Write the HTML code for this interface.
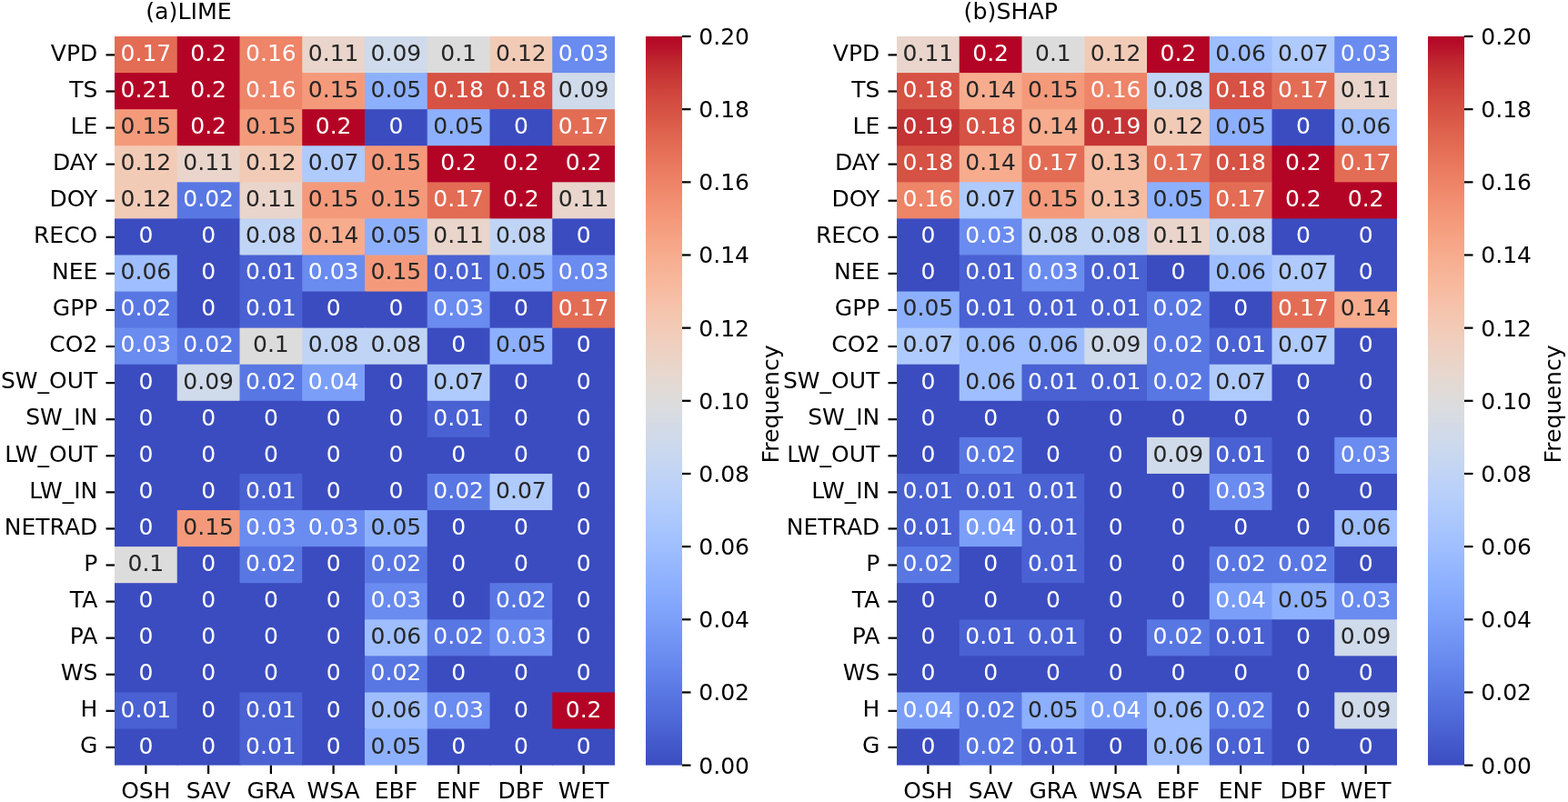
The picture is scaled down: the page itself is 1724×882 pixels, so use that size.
<!DOCTYPE html><html><head><meta charset="utf-8"><style>html,body{margin:0;padding:0;background:#fff;}svg{display:block;}text{font-family:"DejaVu Sans","Liberation Sans",sans-serif;}</style></head><body>
<svg width="1724" height="882" viewBox="0 0 1724 882" font-size="25">
<defs><linearGradient id="cw" x1="0" y1="0" x2="0" y2="1"><stop offset="0.0000" stop-color="#b40426"/><stop offset="0.0156" stop-color="#b8122a"/><stop offset="0.0312" stop-color="#be242e"/><stop offset="0.0469" stop-color="#c43032"/><stop offset="0.0625" stop-color="#ca3b37"/><stop offset="0.0781" stop-color="#cf453c"/><stop offset="0.0938" stop-color="#d44e41"/><stop offset="0.1094" stop-color="#d85646"/><stop offset="0.1250" stop-color="#dd5f4b"/><stop offset="0.1406" stop-color="#e16751"/><stop offset="0.1562" stop-color="#e46e56"/><stop offset="0.1719" stop-color="#e8765c"/><stop offset="0.1875" stop-color="#eb7d62"/><stop offset="0.2031" stop-color="#ee8468"/><stop offset="0.2188" stop-color="#f08b6e"/><stop offset="0.2344" stop-color="#f29274"/><stop offset="0.2500" stop-color="#f4987a"/><stop offset="0.2656" stop-color="#f59f80"/><stop offset="0.2812" stop-color="#f6a586"/><stop offset="0.2969" stop-color="#f7aa8c"/><stop offset="0.3125" stop-color="#f7b093"/><stop offset="0.3281" stop-color="#f7b599"/><stop offset="0.3438" stop-color="#f7ba9f"/><stop offset="0.3594" stop-color="#f6bfa6"/><stop offset="0.3750" stop-color="#f5c4ac"/><stop offset="0.3906" stop-color="#f3c8b2"/><stop offset="0.4062" stop-color="#f1ccb8"/><stop offset="0.4219" stop-color="#efcfbf"/><stop offset="0.4375" stop-color="#ecd3c5"/><stop offset="0.4531" stop-color="#e9d5cb"/><stop offset="0.4688" stop-color="#e5d8d1"/><stop offset="0.4844" stop-color="#e1dad6"/><stop offset="0.5000" stop-color="#dddcdc"/><stop offset="0.5156" stop-color="#d9dce1"/><stop offset="0.5312" stop-color="#d5dbe5"/><stop offset="0.5469" stop-color="#d1dae9"/><stop offset="0.5625" stop-color="#ccd9ed"/><stop offset="0.5781" stop-color="#c7d7f0"/><stop offset="0.5938" stop-color="#c3d5f4"/><stop offset="0.6094" stop-color="#bed2f6"/><stop offset="0.6250" stop-color="#b9d0f9"/><stop offset="0.6406" stop-color="#b3cdfb"/><stop offset="0.6562" stop-color="#aec9fc"/><stop offset="0.6719" stop-color="#a9c6fd"/><stop offset="0.6875" stop-color="#a3c2fe"/><stop offset="0.7031" stop-color="#9ebeff"/><stop offset="0.7188" stop-color="#98b9ff"/><stop offset="0.7344" stop-color="#93b5fe"/><stop offset="0.7500" stop-color="#8db0fe"/><stop offset="0.7656" stop-color="#88abfd"/><stop offset="0.7812" stop-color="#82a6fb"/><stop offset="0.7969" stop-color="#7da0f9"/><stop offset="0.8125" stop-color="#779af7"/><stop offset="0.8281" stop-color="#7295f4"/><stop offset="0.8438" stop-color="#6c8ff1"/><stop offset="0.8594" stop-color="#6788ee"/><stop offset="0.8750" stop-color="#6282ea"/><stop offset="0.8906" stop-color="#5d7ce6"/><stop offset="0.9062" stop-color="#5875e1"/><stop offset="0.9219" stop-color="#536edd"/><stop offset="0.9375" stop-color="#4e68d8"/><stop offset="0.9531" stop-color="#4961d2"/><stop offset="0.9688" stop-color="#445acc"/><stop offset="0.9844" stop-color="#3f53c6"/><stop offset="1.0000" stop-color="#3b4cc0"/></linearGradient></defs>
<rect x="126.00" y="40.00" width="69.75" height="41.08" fill="#e36c55"/>
<rect x="194.75" y="40.00" width="69.75" height="41.08" fill="#b40426"/>
<rect x="263.50" y="40.00" width="69.75" height="41.08" fill="#ee8468"/>
<rect x="332.25" y="40.00" width="69.75" height="41.08" fill="#e9d5cb"/>
<rect x="401.00" y="40.00" width="69.75" height="41.08" fill="#cfdaea"/>
<rect x="469.75" y="40.00" width="69.75" height="41.08" fill="#dddcdc"/>
<rect x="538.50" y="40.00" width="69.75" height="41.08" fill="#f2cbb7"/>
<rect x="607.25" y="40.00" width="68.75" height="41.08" fill="#6a8bef"/>
<rect x="126.00" y="80.08" width="69.75" height="41.08" fill="#b40426"/>
<rect x="194.75" y="80.08" width="69.75" height="41.08" fill="#b40426"/>
<rect x="263.50" y="80.08" width="69.75" height="41.08" fill="#ee8468"/>
<rect x="332.25" y="80.08" width="69.75" height="41.08" fill="#f49a7b"/>
<rect x="401.00" y="80.08" width="69.75" height="41.08" fill="#8db0fe"/>
<rect x="469.75" y="80.08" width="69.75" height="41.08" fill="#d65244"/>
<rect x="538.50" y="80.08" width="69.75" height="41.08" fill="#d65244"/>
<rect x="607.25" y="80.08" width="68.75" height="41.08" fill="#cfdaea"/>
<rect x="126.00" y="120.16" width="69.75" height="41.08" fill="#f49a7b"/>
<rect x="194.75" y="120.16" width="69.75" height="41.08" fill="#b40426"/>
<rect x="263.50" y="120.16" width="69.75" height="41.08" fill="#f49a7b"/>
<rect x="332.25" y="120.16" width="69.75" height="41.08" fill="#b40426"/>
<rect x="401.00" y="120.16" width="69.75" height="41.08" fill="#3b4cc0"/>
<rect x="469.75" y="120.16" width="69.75" height="41.08" fill="#8db0fe"/>
<rect x="538.50" y="120.16" width="69.75" height="41.08" fill="#3b4cc0"/>
<rect x="607.25" y="120.16" width="68.75" height="41.08" fill="#e36c55"/>
<rect x="126.00" y="160.24" width="69.75" height="41.08" fill="#f2cbb7"/>
<rect x="194.75" y="160.24" width="69.75" height="41.08" fill="#e9d5cb"/>
<rect x="263.50" y="160.24" width="69.75" height="41.08" fill="#f2cbb7"/>
<rect x="332.25" y="160.24" width="69.75" height="41.08" fill="#afcafc"/>
<rect x="401.00" y="160.24" width="69.75" height="41.08" fill="#f49a7b"/>
<rect x="469.75" y="160.24" width="69.75" height="41.08" fill="#b40426"/>
<rect x="538.50" y="160.24" width="69.75" height="41.08" fill="#b40426"/>
<rect x="607.25" y="160.24" width="68.75" height="41.08" fill="#b40426"/>
<rect x="126.00" y="200.32" width="69.75" height="41.08" fill="#f2cbb7"/>
<rect x="194.75" y="200.32" width="69.75" height="41.08" fill="#5977e3"/>
<rect x="263.50" y="200.32" width="69.75" height="41.08" fill="#e9d5cb"/>
<rect x="332.25" y="200.32" width="69.75" height="41.08" fill="#f49a7b"/>
<rect x="401.00" y="200.32" width="69.75" height="41.08" fill="#f49a7b"/>
<rect x="469.75" y="200.32" width="69.75" height="41.08" fill="#e36c55"/>
<rect x="538.50" y="200.32" width="69.75" height="41.08" fill="#b40426"/>
<rect x="607.25" y="200.32" width="68.75" height="41.08" fill="#e9d5cb"/>
<rect x="126.00" y="240.40" width="69.75" height="41.08" fill="#3b4cc0"/>
<rect x="194.75" y="240.40" width="69.75" height="41.08" fill="#3b4cc0"/>
<rect x="263.50" y="240.40" width="69.75" height="41.08" fill="#c0d4f5"/>
<rect x="332.25" y="240.40" width="69.75" height="41.08" fill="#f7ac8e"/>
<rect x="401.00" y="240.40" width="69.75" height="41.08" fill="#8db0fe"/>
<rect x="469.75" y="240.40" width="69.75" height="41.08" fill="#e9d5cb"/>
<rect x="538.50" y="240.40" width="69.75" height="41.08" fill="#c0d4f5"/>
<rect x="607.25" y="240.40" width="68.75" height="41.08" fill="#3b4cc0"/>
<rect x="126.00" y="280.48" width="69.75" height="41.08" fill="#9ebeff"/>
<rect x="194.75" y="280.48" width="69.75" height="41.08" fill="#3b4cc0"/>
<rect x="263.50" y="280.48" width="69.75" height="41.08" fill="#4961d2"/>
<rect x="332.25" y="280.48" width="69.75" height="41.08" fill="#6a8bef"/>
<rect x="401.00" y="280.48" width="69.75" height="41.08" fill="#f49a7b"/>
<rect x="469.75" y="280.48" width="69.75" height="41.08" fill="#4961d2"/>
<rect x="538.50" y="280.48" width="69.75" height="41.08" fill="#8db0fe"/>
<rect x="607.25" y="280.48" width="68.75" height="41.08" fill="#6a8bef"/>
<rect x="126.00" y="320.56" width="69.75" height="41.08" fill="#5977e3"/>
<rect x="194.75" y="320.56" width="69.75" height="41.08" fill="#3b4cc0"/>
<rect x="263.50" y="320.56" width="69.75" height="41.08" fill="#4961d2"/>
<rect x="332.25" y="320.56" width="69.75" height="41.08" fill="#3b4cc0"/>
<rect x="401.00" y="320.56" width="69.75" height="41.08" fill="#3b4cc0"/>
<rect x="469.75" y="320.56" width="69.75" height="41.08" fill="#6a8bef"/>
<rect x="538.50" y="320.56" width="69.75" height="41.08" fill="#3b4cc0"/>
<rect x="607.25" y="320.56" width="68.75" height="41.08" fill="#e36c55"/>
<rect x="126.00" y="360.64" width="69.75" height="41.08" fill="#6a8bef"/>
<rect x="194.75" y="360.64" width="69.75" height="41.08" fill="#5977e3"/>
<rect x="263.50" y="360.64" width="69.75" height="41.08" fill="#dddcdc"/>
<rect x="332.25" y="360.64" width="69.75" height="41.08" fill="#c0d4f5"/>
<rect x="401.00" y="360.64" width="69.75" height="41.08" fill="#c0d4f5"/>
<rect x="469.75" y="360.64" width="69.75" height="41.08" fill="#3b4cc0"/>
<rect x="538.50" y="360.64" width="69.75" height="41.08" fill="#8db0fe"/>
<rect x="607.25" y="360.64" width="68.75" height="41.08" fill="#3b4cc0"/>
<rect x="126.00" y="400.72" width="69.75" height="41.08" fill="#3b4cc0"/>
<rect x="194.75" y="400.72" width="69.75" height="41.08" fill="#cfdaea"/>
<rect x="263.50" y="400.72" width="69.75" height="41.08" fill="#5977e3"/>
<rect x="332.25" y="400.72" width="69.75" height="41.08" fill="#7b9ff9"/>
<rect x="401.00" y="400.72" width="69.75" height="41.08" fill="#3b4cc0"/>
<rect x="469.75" y="400.72" width="69.75" height="41.08" fill="#afcafc"/>
<rect x="538.50" y="400.72" width="69.75" height="41.08" fill="#3b4cc0"/>
<rect x="607.25" y="400.72" width="68.75" height="41.08" fill="#3b4cc0"/>
<rect x="126.00" y="440.80" width="69.75" height="41.08" fill="#3b4cc0"/>
<rect x="194.75" y="440.80" width="69.75" height="41.08" fill="#3b4cc0"/>
<rect x="263.50" y="440.80" width="69.75" height="41.08" fill="#3b4cc0"/>
<rect x="332.25" y="440.80" width="69.75" height="41.08" fill="#3b4cc0"/>
<rect x="401.00" y="440.80" width="69.75" height="41.08" fill="#3b4cc0"/>
<rect x="469.75" y="440.80" width="69.75" height="41.08" fill="#4961d2"/>
<rect x="538.50" y="440.80" width="69.75" height="41.08" fill="#3b4cc0"/>
<rect x="607.25" y="440.80" width="68.75" height="41.08" fill="#3b4cc0"/>
<rect x="126.00" y="480.88" width="69.75" height="41.08" fill="#3b4cc0"/>
<rect x="194.75" y="480.88" width="69.75" height="41.08" fill="#3b4cc0"/>
<rect x="263.50" y="480.88" width="69.75" height="41.08" fill="#3b4cc0"/>
<rect x="332.25" y="480.88" width="69.75" height="41.08" fill="#3b4cc0"/>
<rect x="401.00" y="480.88" width="69.75" height="41.08" fill="#3b4cc0"/>
<rect x="469.75" y="480.88" width="69.75" height="41.08" fill="#3b4cc0"/>
<rect x="538.50" y="480.88" width="69.75" height="41.08" fill="#3b4cc0"/>
<rect x="607.25" y="480.88" width="68.75" height="41.08" fill="#3b4cc0"/>
<rect x="126.00" y="520.96" width="69.75" height="41.08" fill="#3b4cc0"/>
<rect x="194.75" y="520.96" width="69.75" height="41.08" fill="#3b4cc0"/>
<rect x="263.50" y="520.96" width="69.75" height="41.08" fill="#4961d2"/>
<rect x="332.25" y="520.96" width="69.75" height="41.08" fill="#3b4cc0"/>
<rect x="401.00" y="520.96" width="69.75" height="41.08" fill="#3b4cc0"/>
<rect x="469.75" y="520.96" width="69.75" height="41.08" fill="#5977e3"/>
<rect x="538.50" y="520.96" width="69.75" height="41.08" fill="#afcafc"/>
<rect x="607.25" y="520.96" width="68.75" height="41.08" fill="#3b4cc0"/>
<rect x="126.00" y="561.04" width="69.75" height="41.08" fill="#3b4cc0"/>
<rect x="194.75" y="561.04" width="69.75" height="41.08" fill="#f49a7b"/>
<rect x="263.50" y="561.04" width="69.75" height="41.08" fill="#6a8bef"/>
<rect x="332.25" y="561.04" width="69.75" height="41.08" fill="#6a8bef"/>
<rect x="401.00" y="561.04" width="69.75" height="41.08" fill="#8db0fe"/>
<rect x="469.75" y="561.04" width="69.75" height="41.08" fill="#3b4cc0"/>
<rect x="538.50" y="561.04" width="69.75" height="41.08" fill="#3b4cc0"/>
<rect x="607.25" y="561.04" width="68.75" height="41.08" fill="#3b4cc0"/>
<rect x="126.00" y="601.12" width="69.75" height="41.08" fill="#dddcdc"/>
<rect x="194.75" y="601.12" width="69.75" height="41.08" fill="#3b4cc0"/>
<rect x="263.50" y="601.12" width="69.75" height="41.08" fill="#5977e3"/>
<rect x="332.25" y="601.12" width="69.75" height="41.08" fill="#3b4cc0"/>
<rect x="401.00" y="601.12" width="69.75" height="41.08" fill="#5977e3"/>
<rect x="469.75" y="601.12" width="69.75" height="41.08" fill="#3b4cc0"/>
<rect x="538.50" y="601.12" width="69.75" height="41.08" fill="#3b4cc0"/>
<rect x="607.25" y="601.12" width="68.75" height="41.08" fill="#3b4cc0"/>
<rect x="126.00" y="641.20" width="69.75" height="41.08" fill="#3b4cc0"/>
<rect x="194.75" y="641.20" width="69.75" height="41.08" fill="#3b4cc0"/>
<rect x="263.50" y="641.20" width="69.75" height="41.08" fill="#3b4cc0"/>
<rect x="332.25" y="641.20" width="69.75" height="41.08" fill="#3b4cc0"/>
<rect x="401.00" y="641.20" width="69.75" height="41.08" fill="#6a8bef"/>
<rect x="469.75" y="641.20" width="69.75" height="41.08" fill="#3b4cc0"/>
<rect x="538.50" y="641.20" width="69.75" height="41.08" fill="#5977e3"/>
<rect x="607.25" y="641.20" width="68.75" height="41.08" fill="#3b4cc0"/>
<rect x="126.00" y="681.28" width="69.75" height="41.08" fill="#3b4cc0"/>
<rect x="194.75" y="681.28" width="69.75" height="41.08" fill="#3b4cc0"/>
<rect x="263.50" y="681.28" width="69.75" height="41.08" fill="#3b4cc0"/>
<rect x="332.25" y="681.28" width="69.75" height="41.08" fill="#3b4cc0"/>
<rect x="401.00" y="681.28" width="69.75" height="41.08" fill="#9ebeff"/>
<rect x="469.75" y="681.28" width="69.75" height="41.08" fill="#5977e3"/>
<rect x="538.50" y="681.28" width="69.75" height="41.08" fill="#6a8bef"/>
<rect x="607.25" y="681.28" width="68.75" height="41.08" fill="#3b4cc0"/>
<rect x="126.00" y="721.36" width="69.75" height="41.08" fill="#3b4cc0"/>
<rect x="194.75" y="721.36" width="69.75" height="41.08" fill="#3b4cc0"/>
<rect x="263.50" y="721.36" width="69.75" height="41.08" fill="#3b4cc0"/>
<rect x="332.25" y="721.36" width="69.75" height="41.08" fill="#3b4cc0"/>
<rect x="401.00" y="721.36" width="69.75" height="41.08" fill="#5977e3"/>
<rect x="469.75" y="721.36" width="69.75" height="41.08" fill="#3b4cc0"/>
<rect x="538.50" y="721.36" width="69.75" height="41.08" fill="#3b4cc0"/>
<rect x="607.25" y="721.36" width="68.75" height="41.08" fill="#3b4cc0"/>
<rect x="126.00" y="761.44" width="69.75" height="41.08" fill="#4961d2"/>
<rect x="194.75" y="761.44" width="69.75" height="41.08" fill="#3b4cc0"/>
<rect x="263.50" y="761.44" width="69.75" height="41.08" fill="#4961d2"/>
<rect x="332.25" y="761.44" width="69.75" height="41.08" fill="#3b4cc0"/>
<rect x="401.00" y="761.44" width="69.75" height="41.08" fill="#9ebeff"/>
<rect x="469.75" y="761.44" width="69.75" height="41.08" fill="#6a8bef"/>
<rect x="538.50" y="761.44" width="69.75" height="41.08" fill="#3b4cc0"/>
<rect x="607.25" y="761.44" width="68.75" height="41.08" fill="#b40426"/>
<rect x="126.00" y="801.52" width="69.75" height="40.08" fill="#3b4cc0"/>
<rect x="194.75" y="801.52" width="69.75" height="40.08" fill="#3b4cc0"/>
<rect x="263.50" y="801.52" width="69.75" height="40.08" fill="#4961d2"/>
<rect x="332.25" y="801.52" width="69.75" height="40.08" fill="#3b4cc0"/>
<rect x="401.00" y="801.52" width="69.75" height="40.08" fill="#8db0fe"/>
<rect x="469.75" y="801.52" width="69.75" height="40.08" fill="#3b4cc0"/>
<rect x="538.50" y="801.52" width="69.75" height="40.08" fill="#3b4cc0"/>
<rect x="607.25" y="801.52" width="68.75" height="40.08" fill="#3b4cc0"/>
<text x="160.38" y="66.59" text-anchor="middle" fill="#ffffff">0.17</text>
<text x="229.12" y="66.59" text-anchor="middle" fill="#ffffff">0.2</text>
<text x="297.88" y="66.59" text-anchor="middle" fill="#ffffff">0.16</text>
<text x="366.62" y="66.59" text-anchor="middle" fill="#262626">0.11</text>
<text x="435.38" y="66.59" text-anchor="middle" fill="#262626">0.09</text>
<text x="504.12" y="66.59" text-anchor="middle" fill="#262626">0.1</text>
<text x="572.88" y="66.59" text-anchor="middle" fill="#262626">0.12</text>
<text x="641.62" y="66.59" text-anchor="middle" fill="#ffffff">0.03</text>
<text x="160.38" y="106.70" text-anchor="middle" fill="#ffffff">0.21</text>
<text x="229.12" y="106.70" text-anchor="middle" fill="#ffffff">0.2</text>
<text x="297.88" y="106.70" text-anchor="middle" fill="#ffffff">0.16</text>
<text x="366.62" y="106.70" text-anchor="middle" fill="#262626">0.15</text>
<text x="435.38" y="106.70" text-anchor="middle" fill="#262626">0.05</text>
<text x="504.12" y="106.70" text-anchor="middle" fill="#ffffff">0.18</text>
<text x="572.88" y="106.70" text-anchor="middle" fill="#ffffff">0.18</text>
<text x="641.62" y="106.70" text-anchor="middle" fill="#262626">0.09</text>
<text x="160.38" y="146.81" text-anchor="middle" fill="#262626">0.15</text>
<text x="229.12" y="146.81" text-anchor="middle" fill="#ffffff">0.2</text>
<text x="297.88" y="146.81" text-anchor="middle" fill="#262626">0.15</text>
<text x="366.62" y="146.81" text-anchor="middle" fill="#ffffff">0.2</text>
<text x="435.38" y="146.81" text-anchor="middle" fill="#ffffff">0</text>
<text x="504.12" y="146.81" text-anchor="middle" fill="#262626">0.05</text>
<text x="572.88" y="146.81" text-anchor="middle" fill="#ffffff">0</text>
<text x="641.62" y="146.81" text-anchor="middle" fill="#ffffff">0.17</text>
<text x="160.38" y="186.91" text-anchor="middle" fill="#262626">0.12</text>
<text x="229.12" y="186.91" text-anchor="middle" fill="#262626">0.11</text>
<text x="297.88" y="186.91" text-anchor="middle" fill="#262626">0.12</text>
<text x="366.62" y="186.91" text-anchor="middle" fill="#262626">0.07</text>
<text x="435.38" y="186.91" text-anchor="middle" fill="#262626">0.15</text>
<text x="504.12" y="186.91" text-anchor="middle" fill="#ffffff">0.2</text>
<text x="572.88" y="186.91" text-anchor="middle" fill="#ffffff">0.2</text>
<text x="641.62" y="186.91" text-anchor="middle" fill="#ffffff">0.2</text>
<text x="160.38" y="227.02" text-anchor="middle" fill="#262626">0.12</text>
<text x="229.12" y="227.02" text-anchor="middle" fill="#ffffff">0.02</text>
<text x="297.88" y="227.02" text-anchor="middle" fill="#262626">0.11</text>
<text x="366.62" y="227.02" text-anchor="middle" fill="#262626">0.15</text>
<text x="435.38" y="227.02" text-anchor="middle" fill="#262626">0.15</text>
<text x="504.12" y="227.02" text-anchor="middle" fill="#ffffff">0.17</text>
<text x="572.88" y="227.02" text-anchor="middle" fill="#ffffff">0.2</text>
<text x="641.62" y="227.02" text-anchor="middle" fill="#262626">0.11</text>
<text x="160.38" y="267.13" text-anchor="middle" fill="#ffffff">0</text>
<text x="229.12" y="267.13" text-anchor="middle" fill="#ffffff">0</text>
<text x="297.88" y="267.13" text-anchor="middle" fill="#262626">0.08</text>
<text x="366.62" y="267.13" text-anchor="middle" fill="#262626">0.14</text>
<text x="435.38" y="267.13" text-anchor="middle" fill="#262626">0.05</text>
<text x="504.12" y="267.13" text-anchor="middle" fill="#262626">0.11</text>
<text x="572.88" y="267.13" text-anchor="middle" fill="#262626">0.08</text>
<text x="641.62" y="267.13" text-anchor="middle" fill="#ffffff">0</text>
<text x="160.38" y="307.24" text-anchor="middle" fill="#262626">0.06</text>
<text x="229.12" y="307.24" text-anchor="middle" fill="#ffffff">0</text>
<text x="297.88" y="307.24" text-anchor="middle" fill="#ffffff">0.01</text>
<text x="366.62" y="307.24" text-anchor="middle" fill="#ffffff">0.03</text>
<text x="435.38" y="307.24" text-anchor="middle" fill="#262626">0.15</text>
<text x="504.12" y="307.24" text-anchor="middle" fill="#ffffff">0.01</text>
<text x="572.88" y="307.24" text-anchor="middle" fill="#262626">0.05</text>
<text x="641.62" y="307.24" text-anchor="middle" fill="#ffffff">0.03</text>
<text x="160.38" y="347.35" text-anchor="middle" fill="#ffffff">0.02</text>
<text x="229.12" y="347.35" text-anchor="middle" fill="#ffffff">0</text>
<text x="297.88" y="347.35" text-anchor="middle" fill="#ffffff">0.01</text>
<text x="366.62" y="347.35" text-anchor="middle" fill="#ffffff">0</text>
<text x="435.38" y="347.35" text-anchor="middle" fill="#ffffff">0</text>
<text x="504.12" y="347.35" text-anchor="middle" fill="#ffffff">0.03</text>
<text x="572.88" y="347.35" text-anchor="middle" fill="#ffffff">0</text>
<text x="641.62" y="347.35" text-anchor="middle" fill="#ffffff">0.17</text>
<text x="160.38" y="387.45" text-anchor="middle" fill="#ffffff">0.03</text>
<text x="229.12" y="387.45" text-anchor="middle" fill="#ffffff">0.02</text>
<text x="297.88" y="387.45" text-anchor="middle" fill="#262626">0.1</text>
<text x="366.62" y="387.45" text-anchor="middle" fill="#262626">0.08</text>
<text x="435.38" y="387.45" text-anchor="middle" fill="#262626">0.08</text>
<text x="504.12" y="387.45" text-anchor="middle" fill="#ffffff">0</text>
<text x="572.88" y="387.45" text-anchor="middle" fill="#262626">0.05</text>
<text x="641.62" y="387.45" text-anchor="middle" fill="#ffffff">0</text>
<text x="160.38" y="427.56" text-anchor="middle" fill="#ffffff">0</text>
<text x="229.12" y="427.56" text-anchor="middle" fill="#262626">0.09</text>
<text x="297.88" y="427.56" text-anchor="middle" fill="#ffffff">0.02</text>
<text x="366.62" y="427.56" text-anchor="middle" fill="#ffffff">0.04</text>
<text x="435.38" y="427.56" text-anchor="middle" fill="#ffffff">0</text>
<text x="504.12" y="427.56" text-anchor="middle" fill="#262626">0.07</text>
<text x="572.88" y="427.56" text-anchor="middle" fill="#ffffff">0</text>
<text x="641.62" y="427.56" text-anchor="middle" fill="#ffffff">0</text>
<text x="160.38" y="467.67" text-anchor="middle" fill="#ffffff">0</text>
<text x="229.12" y="467.67" text-anchor="middle" fill="#ffffff">0</text>
<text x="297.88" y="467.67" text-anchor="middle" fill="#ffffff">0</text>
<text x="366.62" y="467.67" text-anchor="middle" fill="#ffffff">0</text>
<text x="435.38" y="467.67" text-anchor="middle" fill="#ffffff">0</text>
<text x="504.12" y="467.67" text-anchor="middle" fill="#ffffff">0.01</text>
<text x="572.88" y="467.67" text-anchor="middle" fill="#ffffff">0</text>
<text x="641.62" y="467.67" text-anchor="middle" fill="#ffffff">0</text>
<text x="160.38" y="507.78" text-anchor="middle" fill="#ffffff">0</text>
<text x="229.12" y="507.78" text-anchor="middle" fill="#ffffff">0</text>
<text x="297.88" y="507.78" text-anchor="middle" fill="#ffffff">0</text>
<text x="366.62" y="507.78" text-anchor="middle" fill="#ffffff">0</text>
<text x="435.38" y="507.78" text-anchor="middle" fill="#ffffff">0</text>
<text x="504.12" y="507.78" text-anchor="middle" fill="#ffffff">0</text>
<text x="572.88" y="507.78" text-anchor="middle" fill="#ffffff">0</text>
<text x="641.62" y="507.78" text-anchor="middle" fill="#ffffff">0</text>
<text x="160.38" y="547.89" text-anchor="middle" fill="#ffffff">0</text>
<text x="229.12" y="547.89" text-anchor="middle" fill="#ffffff">0</text>
<text x="297.88" y="547.89" text-anchor="middle" fill="#ffffff">0.01</text>
<text x="366.62" y="547.89" text-anchor="middle" fill="#ffffff">0</text>
<text x="435.38" y="547.89" text-anchor="middle" fill="#ffffff">0</text>
<text x="504.12" y="547.89" text-anchor="middle" fill="#ffffff">0.02</text>
<text x="572.88" y="547.89" text-anchor="middle" fill="#262626">0.07</text>
<text x="641.62" y="547.89" text-anchor="middle" fill="#ffffff">0</text>
<text x="160.38" y="587.99" text-anchor="middle" fill="#ffffff">0</text>
<text x="229.12" y="587.99" text-anchor="middle" fill="#262626">0.15</text>
<text x="297.88" y="587.99" text-anchor="middle" fill="#ffffff">0.03</text>
<text x="366.62" y="587.99" text-anchor="middle" fill="#ffffff">0.03</text>
<text x="435.38" y="587.99" text-anchor="middle" fill="#262626">0.05</text>
<text x="504.12" y="587.99" text-anchor="middle" fill="#ffffff">0</text>
<text x="572.88" y="587.99" text-anchor="middle" fill="#ffffff">0</text>
<text x="641.62" y="587.99" text-anchor="middle" fill="#ffffff">0</text>
<text x="160.38" y="628.10" text-anchor="middle" fill="#262626">0.1</text>
<text x="229.12" y="628.10" text-anchor="middle" fill="#ffffff">0</text>
<text x="297.88" y="628.10" text-anchor="middle" fill="#ffffff">0.02</text>
<text x="366.62" y="628.10" text-anchor="middle" fill="#ffffff">0</text>
<text x="435.38" y="628.10" text-anchor="middle" fill="#ffffff">0.02</text>
<text x="504.12" y="628.10" text-anchor="middle" fill="#ffffff">0</text>
<text x="572.88" y="628.10" text-anchor="middle" fill="#ffffff">0</text>
<text x="641.62" y="628.10" text-anchor="middle" fill="#ffffff">0</text>
<text x="160.38" y="668.21" text-anchor="middle" fill="#ffffff">0</text>
<text x="229.12" y="668.21" text-anchor="middle" fill="#ffffff">0</text>
<text x="297.88" y="668.21" text-anchor="middle" fill="#ffffff">0</text>
<text x="366.62" y="668.21" text-anchor="middle" fill="#ffffff">0</text>
<text x="435.38" y="668.21" text-anchor="middle" fill="#ffffff">0.03</text>
<text x="504.12" y="668.21" text-anchor="middle" fill="#ffffff">0</text>
<text x="572.88" y="668.21" text-anchor="middle" fill="#ffffff">0.02</text>
<text x="641.62" y="668.21" text-anchor="middle" fill="#ffffff">0</text>
<text x="160.38" y="708.32" text-anchor="middle" fill="#ffffff">0</text>
<text x="229.12" y="708.32" text-anchor="middle" fill="#ffffff">0</text>
<text x="297.88" y="708.32" text-anchor="middle" fill="#ffffff">0</text>
<text x="366.62" y="708.32" text-anchor="middle" fill="#ffffff">0</text>
<text x="435.38" y="708.32" text-anchor="middle" fill="#262626">0.06</text>
<text x="504.12" y="708.32" text-anchor="middle" fill="#ffffff">0.02</text>
<text x="572.88" y="708.32" text-anchor="middle" fill="#ffffff">0.03</text>
<text x="641.62" y="708.32" text-anchor="middle" fill="#ffffff">0</text>
<text x="160.38" y="748.43" text-anchor="middle" fill="#ffffff">0</text>
<text x="229.12" y="748.43" text-anchor="middle" fill="#ffffff">0</text>
<text x="297.88" y="748.43" text-anchor="middle" fill="#ffffff">0</text>
<text x="366.62" y="748.43" text-anchor="middle" fill="#ffffff">0</text>
<text x="435.38" y="748.43" text-anchor="middle" fill="#ffffff">0.02</text>
<text x="504.12" y="748.43" text-anchor="middle" fill="#ffffff">0</text>
<text x="572.88" y="748.43" text-anchor="middle" fill="#ffffff">0</text>
<text x="641.62" y="748.43" text-anchor="middle" fill="#ffffff">0</text>
<text x="160.38" y="788.53" text-anchor="middle" fill="#ffffff">0.01</text>
<text x="229.12" y="788.53" text-anchor="middle" fill="#ffffff">0</text>
<text x="297.88" y="788.53" text-anchor="middle" fill="#ffffff">0.01</text>
<text x="366.62" y="788.53" text-anchor="middle" fill="#ffffff">0</text>
<text x="435.38" y="788.53" text-anchor="middle" fill="#262626">0.06</text>
<text x="504.12" y="788.53" text-anchor="middle" fill="#ffffff">0.03</text>
<text x="572.88" y="788.53" text-anchor="middle" fill="#ffffff">0</text>
<text x="641.62" y="788.53" text-anchor="middle" fill="#ffffff">0.2</text>
<text x="160.38" y="828.64" text-anchor="middle" fill="#ffffff">0</text>
<text x="229.12" y="828.64" text-anchor="middle" fill="#ffffff">0</text>
<text x="297.88" y="828.64" text-anchor="middle" fill="#ffffff">0.01</text>
<text x="366.62" y="828.64" text-anchor="middle" fill="#ffffff">0</text>
<text x="435.38" y="828.64" text-anchor="middle" fill="#262626">0.05</text>
<text x="504.12" y="828.64" text-anchor="middle" fill="#ffffff">0</text>
<text x="572.88" y="828.64" text-anchor="middle" fill="#ffffff">0</text>
<text x="641.62" y="828.64" text-anchor="middle" fill="#ffffff">0</text>
<line x1="116.50" y1="60.39" x2="126.00" y2="60.39" stroke="#000" stroke-width="2.2"/>
<text x="107.30" y="66.64" text-anchor="end" fill="#000">VPD</text>
<line x1="116.50" y1="100.47" x2="126.00" y2="100.47" stroke="#000" stroke-width="2.2"/>
<text x="107.30" y="106.72" text-anchor="end" fill="#000">TS</text>
<line x1="116.50" y1="140.55" x2="126.00" y2="140.55" stroke="#000" stroke-width="2.2"/>
<text x="107.30" y="146.80" text-anchor="end" fill="#000">LE</text>
<line x1="116.50" y1="180.63" x2="126.00" y2="180.63" stroke="#000" stroke-width="2.2"/>
<text x="107.30" y="186.88" text-anchor="end" fill="#000">DAY</text>
<line x1="116.50" y1="220.71" x2="126.00" y2="220.71" stroke="#000" stroke-width="2.2"/>
<text x="107.30" y="226.96" text-anchor="end" fill="#000">DOY</text>
<line x1="116.50" y1="260.79" x2="126.00" y2="260.79" stroke="#000" stroke-width="2.2"/>
<text x="107.30" y="267.04" text-anchor="end" fill="#000">RECO</text>
<line x1="116.50" y1="300.87" x2="126.00" y2="300.87" stroke="#000" stroke-width="2.2"/>
<text x="107.30" y="307.12" text-anchor="end" fill="#000">NEE</text>
<line x1="116.50" y1="340.95" x2="126.00" y2="340.95" stroke="#000" stroke-width="2.2"/>
<text x="107.30" y="347.20" text-anchor="end" fill="#000">GPP</text>
<line x1="116.50" y1="381.03" x2="126.00" y2="381.03" stroke="#000" stroke-width="2.2"/>
<text x="107.30" y="387.28" text-anchor="end" fill="#000">CO2</text>
<line x1="116.50" y1="421.11" x2="126.00" y2="421.11" stroke="#000" stroke-width="2.2"/>
<text x="107.30" y="427.36" text-anchor="end" fill="#000">SW_OUT</text>
<line x1="116.50" y1="461.19" x2="126.00" y2="461.19" stroke="#000" stroke-width="2.2"/>
<text x="107.30" y="467.44" text-anchor="end" fill="#000">SW_IN</text>
<line x1="116.50" y1="501.27" x2="126.00" y2="501.27" stroke="#000" stroke-width="2.2"/>
<text x="107.30" y="507.52" text-anchor="end" fill="#000">LW_OUT</text>
<line x1="116.50" y1="541.35" x2="126.00" y2="541.35" stroke="#000" stroke-width="2.2"/>
<text x="107.30" y="547.60" text-anchor="end" fill="#000">LW_IN</text>
<line x1="116.50" y1="581.43" x2="126.00" y2="581.43" stroke="#000" stroke-width="2.2"/>
<text x="107.30" y="587.68" text-anchor="end" fill="#000">NETRAD</text>
<line x1="116.50" y1="621.51" x2="126.00" y2="621.51" stroke="#000" stroke-width="2.2"/>
<text x="107.30" y="627.76" text-anchor="end" fill="#000">P</text>
<line x1="116.50" y1="661.59" x2="126.00" y2="661.59" stroke="#000" stroke-width="2.2"/>
<text x="107.30" y="667.84" text-anchor="end" fill="#000">TA</text>
<line x1="116.50" y1="701.67" x2="126.00" y2="701.67" stroke="#000" stroke-width="2.2"/>
<text x="107.30" y="707.92" text-anchor="end" fill="#000">PA</text>
<line x1="116.50" y1="741.75" x2="126.00" y2="741.75" stroke="#000" stroke-width="2.2"/>
<text x="107.30" y="748.00" text-anchor="end" fill="#000">WS</text>
<line x1="116.50" y1="781.83" x2="126.00" y2="781.83" stroke="#000" stroke-width="2.2"/>
<text x="107.30" y="788.08" text-anchor="end" fill="#000">H</text>
<line x1="116.50" y1="821.91" x2="126.00" y2="821.91" stroke="#000" stroke-width="2.2"/>
<text x="107.30" y="828.16" text-anchor="end" fill="#000">G</text>
<line x1="160.38" y1="841.60" x2="160.38" y2="851.10" stroke="#000" stroke-width="2.2"/>
<text x="160.38" y="878.00" text-anchor="middle" fill="#000">OSH</text>
<line x1="229.12" y1="841.60" x2="229.12" y2="851.10" stroke="#000" stroke-width="2.2"/>
<text x="229.12" y="878.00" text-anchor="middle" fill="#000">SAV</text>
<line x1="297.88" y1="841.60" x2="297.88" y2="851.10" stroke="#000" stroke-width="2.2"/>
<text x="297.88" y="878.00" text-anchor="middle" fill="#000">GRA</text>
<line x1="366.62" y1="841.60" x2="366.62" y2="851.10" stroke="#000" stroke-width="2.2"/>
<text x="366.62" y="878.00" text-anchor="middle" fill="#000">WSA</text>
<line x1="435.38" y1="841.60" x2="435.38" y2="851.10" stroke="#000" stroke-width="2.2"/>
<text x="435.38" y="878.00" text-anchor="middle" fill="#000">EBF</text>
<line x1="504.12" y1="841.60" x2="504.12" y2="851.10" stroke="#000" stroke-width="2.2"/>
<text x="504.12" y="878.00" text-anchor="middle" fill="#000">ENF</text>
<line x1="572.88" y1="841.60" x2="572.88" y2="851.10" stroke="#000" stroke-width="2.2"/>
<text x="572.88" y="878.00" text-anchor="middle" fill="#000">DBF</text>
<line x1="641.62" y1="841.60" x2="641.62" y2="851.10" stroke="#000" stroke-width="2.2"/>
<text x="641.62" y="878.00" text-anchor="middle" fill="#000">WET</text>
<rect x="710.00" y="40.00" width="40.00" height="801.60" fill="url(#cw)"/>
<line x1="750.00" y1="841.60" x2="759.50" y2="841.60" stroke="#000" stroke-width="2.2"/>
<text x="768.30" y="850.50" fill="#000">0.00</text>
<line x1="750.00" y1="761.44" x2="759.50" y2="761.44" stroke="#000" stroke-width="2.2"/>
<text x="768.30" y="770.34" fill="#000">0.02</text>
<line x1="750.00" y1="681.28" x2="759.50" y2="681.28" stroke="#000" stroke-width="2.2"/>
<text x="768.30" y="690.18" fill="#000">0.04</text>
<line x1="750.00" y1="601.12" x2="759.50" y2="601.12" stroke="#000" stroke-width="2.2"/>
<text x="768.30" y="610.02" fill="#000">0.06</text>
<line x1="750.00" y1="520.96" x2="759.50" y2="520.96" stroke="#000" stroke-width="2.2"/>
<text x="768.30" y="529.86" fill="#000">0.08</text>
<line x1="750.00" y1="440.80" x2="759.50" y2="440.80" stroke="#000" stroke-width="2.2"/>
<text x="768.30" y="449.70" fill="#000">0.10</text>
<line x1="750.00" y1="360.64" x2="759.50" y2="360.64" stroke="#000" stroke-width="2.2"/>
<text x="768.30" y="369.54" fill="#000">0.12</text>
<line x1="750.00" y1="280.48" x2="759.50" y2="280.48" stroke="#000" stroke-width="2.2"/>
<text x="768.30" y="289.38" fill="#000">0.14</text>
<line x1="750.00" y1="200.32" x2="759.50" y2="200.32" stroke="#000" stroke-width="2.2"/>
<text x="768.30" y="209.22" fill="#000">0.16</text>
<line x1="750.00" y1="120.16" x2="759.50" y2="120.16" stroke="#000" stroke-width="2.2"/>
<text x="768.30" y="129.06" fill="#000">0.18</text>
<line x1="750.00" y1="40.00" x2="759.50" y2="40.00" stroke="#000" stroke-width="2.2"/>
<text x="768.30" y="48.90" fill="#000">0.20</text>
<text x="856.00" y="444.40" text-anchor="middle" fill="#000" font-size="25.2" transform="rotate(-90 856.00 444.40)">Frequency</text>
<text x="160.20" y="20.6" fill="#000" font-size="25.3">(a)LIME</text>
<rect x="986.00" y="40.00" width="69.75" height="41.08" fill="#e9d5cb"/>
<rect x="1054.75" y="40.00" width="69.75" height="41.08" fill="#b40426"/>
<rect x="1123.50" y="40.00" width="69.75" height="41.08" fill="#dddcdc"/>
<rect x="1192.25" y="40.00" width="69.75" height="41.08" fill="#f2cbb7"/>
<rect x="1261.00" y="40.00" width="69.75" height="41.08" fill="#b40426"/>
<rect x="1329.75" y="40.00" width="69.75" height="41.08" fill="#9ebeff"/>
<rect x="1398.50" y="40.00" width="69.75" height="41.08" fill="#afcafc"/>
<rect x="1467.25" y="40.00" width="68.75" height="41.08" fill="#6a8bef"/>
<rect x="986.00" y="80.08" width="69.75" height="41.08" fill="#d65244"/>
<rect x="1054.75" y="80.08" width="69.75" height="41.08" fill="#f7ac8e"/>
<rect x="1123.50" y="80.08" width="69.75" height="41.08" fill="#f49a7b"/>
<rect x="1192.25" y="80.08" width="69.75" height="41.08" fill="#ee8468"/>
<rect x="1261.00" y="80.08" width="69.75" height="41.08" fill="#c0d4f5"/>
<rect x="1329.75" y="80.08" width="69.75" height="41.08" fill="#d65244"/>
<rect x="1398.50" y="80.08" width="69.75" height="41.08" fill="#e36c55"/>
<rect x="1467.25" y="80.08" width="68.75" height="41.08" fill="#e9d5cb"/>
<rect x="986.00" y="120.16" width="69.75" height="41.08" fill="#c53334"/>
<rect x="1054.75" y="120.16" width="69.75" height="41.08" fill="#d65244"/>
<rect x="1123.50" y="120.16" width="69.75" height="41.08" fill="#f7ac8e"/>
<rect x="1192.25" y="120.16" width="69.75" height="41.08" fill="#c53334"/>
<rect x="1261.00" y="120.16" width="69.75" height="41.08" fill="#f2cbb7"/>
<rect x="1329.75" y="120.16" width="69.75" height="41.08" fill="#8db0fe"/>
<rect x="1398.50" y="120.16" width="69.75" height="41.08" fill="#3b4cc0"/>
<rect x="1467.25" y="120.16" width="68.75" height="41.08" fill="#9ebeff"/>
<rect x="986.00" y="160.24" width="69.75" height="41.08" fill="#d65244"/>
<rect x="1054.75" y="160.24" width="69.75" height="41.08" fill="#f7ac8e"/>
<rect x="1123.50" y="160.24" width="69.75" height="41.08" fill="#e36c55"/>
<rect x="1192.25" y="160.24" width="69.75" height="41.08" fill="#f6bda2"/>
<rect x="1261.00" y="160.24" width="69.75" height="41.08" fill="#e36c55"/>
<rect x="1329.75" y="160.24" width="69.75" height="41.08" fill="#d65244"/>
<rect x="1398.50" y="160.24" width="69.75" height="41.08" fill="#b40426"/>
<rect x="1467.25" y="160.24" width="68.75" height="41.08" fill="#e36c55"/>
<rect x="986.00" y="200.32" width="69.75" height="41.08" fill="#ee8468"/>
<rect x="1054.75" y="200.32" width="69.75" height="41.08" fill="#afcafc"/>
<rect x="1123.50" y="200.32" width="69.75" height="41.08" fill="#f49a7b"/>
<rect x="1192.25" y="200.32" width="69.75" height="41.08" fill="#f6bda2"/>
<rect x="1261.00" y="200.32" width="69.75" height="41.08" fill="#8db0fe"/>
<rect x="1329.75" y="200.32" width="69.75" height="41.08" fill="#e36c55"/>
<rect x="1398.50" y="200.32" width="69.75" height="41.08" fill="#b40426"/>
<rect x="1467.25" y="200.32" width="68.75" height="41.08" fill="#b40426"/>
<rect x="986.00" y="240.40" width="69.75" height="41.08" fill="#3b4cc0"/>
<rect x="1054.75" y="240.40" width="69.75" height="41.08" fill="#6a8bef"/>
<rect x="1123.50" y="240.40" width="69.75" height="41.08" fill="#c0d4f5"/>
<rect x="1192.25" y="240.40" width="69.75" height="41.08" fill="#c0d4f5"/>
<rect x="1261.00" y="240.40" width="69.75" height="41.08" fill="#e9d5cb"/>
<rect x="1329.75" y="240.40" width="69.75" height="41.08" fill="#c0d4f5"/>
<rect x="1398.50" y="240.40" width="69.75" height="41.08" fill="#3b4cc0"/>
<rect x="1467.25" y="240.40" width="68.75" height="41.08" fill="#3b4cc0"/>
<rect x="986.00" y="280.48" width="69.75" height="41.08" fill="#3b4cc0"/>
<rect x="1054.75" y="280.48" width="69.75" height="41.08" fill="#4961d2"/>
<rect x="1123.50" y="280.48" width="69.75" height="41.08" fill="#6a8bef"/>
<rect x="1192.25" y="280.48" width="69.75" height="41.08" fill="#4961d2"/>
<rect x="1261.00" y="280.48" width="69.75" height="41.08" fill="#3b4cc0"/>
<rect x="1329.75" y="280.48" width="69.75" height="41.08" fill="#9ebeff"/>
<rect x="1398.50" y="280.48" width="69.75" height="41.08" fill="#afcafc"/>
<rect x="1467.25" y="280.48" width="68.75" height="41.08" fill="#3b4cc0"/>
<rect x="986.00" y="320.56" width="69.75" height="41.08" fill="#8db0fe"/>
<rect x="1054.75" y="320.56" width="69.75" height="41.08" fill="#4961d2"/>
<rect x="1123.50" y="320.56" width="69.75" height="41.08" fill="#4961d2"/>
<rect x="1192.25" y="320.56" width="69.75" height="41.08" fill="#4961d2"/>
<rect x="1261.00" y="320.56" width="69.75" height="41.08" fill="#5977e3"/>
<rect x="1329.75" y="320.56" width="69.75" height="41.08" fill="#3b4cc0"/>
<rect x="1398.50" y="320.56" width="69.75" height="41.08" fill="#e36c55"/>
<rect x="1467.25" y="320.56" width="68.75" height="41.08" fill="#f7ac8e"/>
<rect x="986.00" y="360.64" width="69.75" height="41.08" fill="#afcafc"/>
<rect x="1054.75" y="360.64" width="69.75" height="41.08" fill="#9ebeff"/>
<rect x="1123.50" y="360.64" width="69.75" height="41.08" fill="#9ebeff"/>
<rect x="1192.25" y="360.64" width="69.75" height="41.08" fill="#cfdaea"/>
<rect x="1261.00" y="360.64" width="69.75" height="41.08" fill="#5977e3"/>
<rect x="1329.75" y="360.64" width="69.75" height="41.08" fill="#4961d2"/>
<rect x="1398.50" y="360.64" width="69.75" height="41.08" fill="#afcafc"/>
<rect x="1467.25" y="360.64" width="68.75" height="41.08" fill="#3b4cc0"/>
<rect x="986.00" y="400.72" width="69.75" height="41.08" fill="#3b4cc0"/>
<rect x="1054.75" y="400.72" width="69.75" height="41.08" fill="#9ebeff"/>
<rect x="1123.50" y="400.72" width="69.75" height="41.08" fill="#4961d2"/>
<rect x="1192.25" y="400.72" width="69.75" height="41.08" fill="#4961d2"/>
<rect x="1261.00" y="400.72" width="69.75" height="41.08" fill="#5977e3"/>
<rect x="1329.75" y="400.72" width="69.75" height="41.08" fill="#afcafc"/>
<rect x="1398.50" y="400.72" width="69.75" height="41.08" fill="#3b4cc0"/>
<rect x="1467.25" y="400.72" width="68.75" height="41.08" fill="#3b4cc0"/>
<rect x="986.00" y="440.80" width="69.75" height="41.08" fill="#3b4cc0"/>
<rect x="1054.75" y="440.80" width="69.75" height="41.08" fill="#3b4cc0"/>
<rect x="1123.50" y="440.80" width="69.75" height="41.08" fill="#3b4cc0"/>
<rect x="1192.25" y="440.80" width="69.75" height="41.08" fill="#3b4cc0"/>
<rect x="1261.00" y="440.80" width="69.75" height="41.08" fill="#3b4cc0"/>
<rect x="1329.75" y="440.80" width="69.75" height="41.08" fill="#3b4cc0"/>
<rect x="1398.50" y="440.80" width="69.75" height="41.08" fill="#3b4cc0"/>
<rect x="1467.25" y="440.80" width="68.75" height="41.08" fill="#3b4cc0"/>
<rect x="986.00" y="480.88" width="69.75" height="41.08" fill="#3b4cc0"/>
<rect x="1054.75" y="480.88" width="69.75" height="41.08" fill="#5977e3"/>
<rect x="1123.50" y="480.88" width="69.75" height="41.08" fill="#3b4cc0"/>
<rect x="1192.25" y="480.88" width="69.75" height="41.08" fill="#3b4cc0"/>
<rect x="1261.00" y="480.88" width="69.75" height="41.08" fill="#cfdaea"/>
<rect x="1329.75" y="480.88" width="69.75" height="41.08" fill="#4961d2"/>
<rect x="1398.50" y="480.88" width="69.75" height="41.08" fill="#3b4cc0"/>
<rect x="1467.25" y="480.88" width="68.75" height="41.08" fill="#6a8bef"/>
<rect x="986.00" y="520.96" width="69.75" height="41.08" fill="#4961d2"/>
<rect x="1054.75" y="520.96" width="69.75" height="41.08" fill="#4961d2"/>
<rect x="1123.50" y="520.96" width="69.75" height="41.08" fill="#4961d2"/>
<rect x="1192.25" y="520.96" width="69.75" height="41.08" fill="#3b4cc0"/>
<rect x="1261.00" y="520.96" width="69.75" height="41.08" fill="#3b4cc0"/>
<rect x="1329.75" y="520.96" width="69.75" height="41.08" fill="#6a8bef"/>
<rect x="1398.50" y="520.96" width="69.75" height="41.08" fill="#3b4cc0"/>
<rect x="1467.25" y="520.96" width="68.75" height="41.08" fill="#3b4cc0"/>
<rect x="986.00" y="561.04" width="69.75" height="41.08" fill="#4961d2"/>
<rect x="1054.75" y="561.04" width="69.75" height="41.08" fill="#7b9ff9"/>
<rect x="1123.50" y="561.04" width="69.75" height="41.08" fill="#4961d2"/>
<rect x="1192.25" y="561.04" width="69.75" height="41.08" fill="#3b4cc0"/>
<rect x="1261.00" y="561.04" width="69.75" height="41.08" fill="#3b4cc0"/>
<rect x="1329.75" y="561.04" width="69.75" height="41.08" fill="#3b4cc0"/>
<rect x="1398.50" y="561.04" width="69.75" height="41.08" fill="#3b4cc0"/>
<rect x="1467.25" y="561.04" width="68.75" height="41.08" fill="#9ebeff"/>
<rect x="986.00" y="601.12" width="69.75" height="41.08" fill="#5977e3"/>
<rect x="1054.75" y="601.12" width="69.75" height="41.08" fill="#3b4cc0"/>
<rect x="1123.50" y="601.12" width="69.75" height="41.08" fill="#4961d2"/>
<rect x="1192.25" y="601.12" width="69.75" height="41.08" fill="#3b4cc0"/>
<rect x="1261.00" y="601.12" width="69.75" height="41.08" fill="#3b4cc0"/>
<rect x="1329.75" y="601.12" width="69.75" height="41.08" fill="#5977e3"/>
<rect x="1398.50" y="601.12" width="69.75" height="41.08" fill="#5977e3"/>
<rect x="1467.25" y="601.12" width="68.75" height="41.08" fill="#3b4cc0"/>
<rect x="986.00" y="641.20" width="69.75" height="41.08" fill="#3b4cc0"/>
<rect x="1054.75" y="641.20" width="69.75" height="41.08" fill="#3b4cc0"/>
<rect x="1123.50" y="641.20" width="69.75" height="41.08" fill="#3b4cc0"/>
<rect x="1192.25" y="641.20" width="69.75" height="41.08" fill="#3b4cc0"/>
<rect x="1261.00" y="641.20" width="69.75" height="41.08" fill="#3b4cc0"/>
<rect x="1329.75" y="641.20" width="69.75" height="41.08" fill="#7b9ff9"/>
<rect x="1398.50" y="641.20" width="69.75" height="41.08" fill="#8db0fe"/>
<rect x="1467.25" y="641.20" width="68.75" height="41.08" fill="#6a8bef"/>
<rect x="986.00" y="681.28" width="69.75" height="41.08" fill="#3b4cc0"/>
<rect x="1054.75" y="681.28" width="69.75" height="41.08" fill="#4961d2"/>
<rect x="1123.50" y="681.28" width="69.75" height="41.08" fill="#4961d2"/>
<rect x="1192.25" y="681.28" width="69.75" height="41.08" fill="#3b4cc0"/>
<rect x="1261.00" y="681.28" width="69.75" height="41.08" fill="#5977e3"/>
<rect x="1329.75" y="681.28" width="69.75" height="41.08" fill="#4961d2"/>
<rect x="1398.50" y="681.28" width="69.75" height="41.08" fill="#3b4cc0"/>
<rect x="1467.25" y="681.28" width="68.75" height="41.08" fill="#cfdaea"/>
<rect x="986.00" y="721.36" width="69.75" height="41.08" fill="#3b4cc0"/>
<rect x="1054.75" y="721.36" width="69.75" height="41.08" fill="#3b4cc0"/>
<rect x="1123.50" y="721.36" width="69.75" height="41.08" fill="#3b4cc0"/>
<rect x="1192.25" y="721.36" width="69.75" height="41.08" fill="#3b4cc0"/>
<rect x="1261.00" y="721.36" width="69.75" height="41.08" fill="#3b4cc0"/>
<rect x="1329.75" y="721.36" width="69.75" height="41.08" fill="#3b4cc0"/>
<rect x="1398.50" y="721.36" width="69.75" height="41.08" fill="#3b4cc0"/>
<rect x="1467.25" y="721.36" width="68.75" height="41.08" fill="#3b4cc0"/>
<rect x="986.00" y="761.44" width="69.75" height="41.08" fill="#7b9ff9"/>
<rect x="1054.75" y="761.44" width="69.75" height="41.08" fill="#5977e3"/>
<rect x="1123.50" y="761.44" width="69.75" height="41.08" fill="#8db0fe"/>
<rect x="1192.25" y="761.44" width="69.75" height="41.08" fill="#7b9ff9"/>
<rect x="1261.00" y="761.44" width="69.75" height="41.08" fill="#9ebeff"/>
<rect x="1329.75" y="761.44" width="69.75" height="41.08" fill="#5977e3"/>
<rect x="1398.50" y="761.44" width="69.75" height="41.08" fill="#3b4cc0"/>
<rect x="1467.25" y="761.44" width="68.75" height="41.08" fill="#cfdaea"/>
<rect x="986.00" y="801.52" width="69.75" height="40.08" fill="#3b4cc0"/>
<rect x="1054.75" y="801.52" width="69.75" height="40.08" fill="#5977e3"/>
<rect x="1123.50" y="801.52" width="69.75" height="40.08" fill="#4961d2"/>
<rect x="1192.25" y="801.52" width="69.75" height="40.08" fill="#3b4cc0"/>
<rect x="1261.00" y="801.52" width="69.75" height="40.08" fill="#9ebeff"/>
<rect x="1329.75" y="801.52" width="69.75" height="40.08" fill="#4961d2"/>
<rect x="1398.50" y="801.52" width="69.75" height="40.08" fill="#3b4cc0"/>
<rect x="1467.25" y="801.52" width="68.75" height="40.08" fill="#3b4cc0"/>
<text x="1020.38" y="66.59" text-anchor="middle" fill="#262626">0.11</text>
<text x="1089.12" y="66.59" text-anchor="middle" fill="#ffffff">0.2</text>
<text x="1157.88" y="66.59" text-anchor="middle" fill="#262626">0.1</text>
<text x="1226.62" y="66.59" text-anchor="middle" fill="#262626">0.12</text>
<text x="1295.38" y="66.59" text-anchor="middle" fill="#ffffff">0.2</text>
<text x="1364.12" y="66.59" text-anchor="middle" fill="#262626">0.06</text>
<text x="1432.88" y="66.59" text-anchor="middle" fill="#262626">0.07</text>
<text x="1501.62" y="66.59" text-anchor="middle" fill="#ffffff">0.03</text>
<text x="1020.38" y="106.70" text-anchor="middle" fill="#ffffff">0.18</text>
<text x="1089.12" y="106.70" text-anchor="middle" fill="#262626">0.14</text>
<text x="1157.88" y="106.70" text-anchor="middle" fill="#262626">0.15</text>
<text x="1226.62" y="106.70" text-anchor="middle" fill="#ffffff">0.16</text>
<text x="1295.38" y="106.70" text-anchor="middle" fill="#262626">0.08</text>
<text x="1364.12" y="106.70" text-anchor="middle" fill="#ffffff">0.18</text>
<text x="1432.88" y="106.70" text-anchor="middle" fill="#ffffff">0.17</text>
<text x="1501.62" y="106.70" text-anchor="middle" fill="#262626">0.11</text>
<text x="1020.38" y="146.81" text-anchor="middle" fill="#ffffff">0.19</text>
<text x="1089.12" y="146.81" text-anchor="middle" fill="#ffffff">0.18</text>
<text x="1157.88" y="146.81" text-anchor="middle" fill="#262626">0.14</text>
<text x="1226.62" y="146.81" text-anchor="middle" fill="#ffffff">0.19</text>
<text x="1295.38" y="146.81" text-anchor="middle" fill="#262626">0.12</text>
<text x="1364.12" y="146.81" text-anchor="middle" fill="#262626">0.05</text>
<text x="1432.88" y="146.81" text-anchor="middle" fill="#ffffff">0</text>
<text x="1501.62" y="146.81" text-anchor="middle" fill="#262626">0.06</text>
<text x="1020.38" y="186.91" text-anchor="middle" fill="#ffffff">0.18</text>
<text x="1089.12" y="186.91" text-anchor="middle" fill="#262626">0.14</text>
<text x="1157.88" y="186.91" text-anchor="middle" fill="#ffffff">0.17</text>
<text x="1226.62" y="186.91" text-anchor="middle" fill="#262626">0.13</text>
<text x="1295.38" y="186.91" text-anchor="middle" fill="#ffffff">0.17</text>
<text x="1364.12" y="186.91" text-anchor="middle" fill="#ffffff">0.18</text>
<text x="1432.88" y="186.91" text-anchor="middle" fill="#ffffff">0.2</text>
<text x="1501.62" y="186.91" text-anchor="middle" fill="#ffffff">0.17</text>
<text x="1020.38" y="227.02" text-anchor="middle" fill="#ffffff">0.16</text>
<text x="1089.12" y="227.02" text-anchor="middle" fill="#262626">0.07</text>
<text x="1157.88" y="227.02" text-anchor="middle" fill="#262626">0.15</text>
<text x="1226.62" y="227.02" text-anchor="middle" fill="#262626">0.13</text>
<text x="1295.38" y="227.02" text-anchor="middle" fill="#262626">0.05</text>
<text x="1364.12" y="227.02" text-anchor="middle" fill="#ffffff">0.17</text>
<text x="1432.88" y="227.02" text-anchor="middle" fill="#ffffff">0.2</text>
<text x="1501.62" y="227.02" text-anchor="middle" fill="#ffffff">0.2</text>
<text x="1020.38" y="267.13" text-anchor="middle" fill="#ffffff">0</text>
<text x="1089.12" y="267.13" text-anchor="middle" fill="#ffffff">0.03</text>
<text x="1157.88" y="267.13" text-anchor="middle" fill="#262626">0.08</text>
<text x="1226.62" y="267.13" text-anchor="middle" fill="#262626">0.08</text>
<text x="1295.38" y="267.13" text-anchor="middle" fill="#262626">0.11</text>
<text x="1364.12" y="267.13" text-anchor="middle" fill="#262626">0.08</text>
<text x="1432.88" y="267.13" text-anchor="middle" fill="#ffffff">0</text>
<text x="1501.62" y="267.13" text-anchor="middle" fill="#ffffff">0</text>
<text x="1020.38" y="307.24" text-anchor="middle" fill="#ffffff">0</text>
<text x="1089.12" y="307.24" text-anchor="middle" fill="#ffffff">0.01</text>
<text x="1157.88" y="307.24" text-anchor="middle" fill="#ffffff">0.03</text>
<text x="1226.62" y="307.24" text-anchor="middle" fill="#ffffff">0.01</text>
<text x="1295.38" y="307.24" text-anchor="middle" fill="#ffffff">0</text>
<text x="1364.12" y="307.24" text-anchor="middle" fill="#262626">0.06</text>
<text x="1432.88" y="307.24" text-anchor="middle" fill="#262626">0.07</text>
<text x="1501.62" y="307.24" text-anchor="middle" fill="#ffffff">0</text>
<text x="1020.38" y="347.35" text-anchor="middle" fill="#262626">0.05</text>
<text x="1089.12" y="347.35" text-anchor="middle" fill="#ffffff">0.01</text>
<text x="1157.88" y="347.35" text-anchor="middle" fill="#ffffff">0.01</text>
<text x="1226.62" y="347.35" text-anchor="middle" fill="#ffffff">0.01</text>
<text x="1295.38" y="347.35" text-anchor="middle" fill="#ffffff">0.02</text>
<text x="1364.12" y="347.35" text-anchor="middle" fill="#ffffff">0</text>
<text x="1432.88" y="347.35" text-anchor="middle" fill="#ffffff">0.17</text>
<text x="1501.62" y="347.35" text-anchor="middle" fill="#262626">0.14</text>
<text x="1020.38" y="387.45" text-anchor="middle" fill="#262626">0.07</text>
<text x="1089.12" y="387.45" text-anchor="middle" fill="#262626">0.06</text>
<text x="1157.88" y="387.45" text-anchor="middle" fill="#262626">0.06</text>
<text x="1226.62" y="387.45" text-anchor="middle" fill="#262626">0.09</text>
<text x="1295.38" y="387.45" text-anchor="middle" fill="#ffffff">0.02</text>
<text x="1364.12" y="387.45" text-anchor="middle" fill="#ffffff">0.01</text>
<text x="1432.88" y="387.45" text-anchor="middle" fill="#262626">0.07</text>
<text x="1501.62" y="387.45" text-anchor="middle" fill="#ffffff">0</text>
<text x="1020.38" y="427.56" text-anchor="middle" fill="#ffffff">0</text>
<text x="1089.12" y="427.56" text-anchor="middle" fill="#262626">0.06</text>
<text x="1157.88" y="427.56" text-anchor="middle" fill="#ffffff">0.01</text>
<text x="1226.62" y="427.56" text-anchor="middle" fill="#ffffff">0.01</text>
<text x="1295.38" y="427.56" text-anchor="middle" fill="#ffffff">0.02</text>
<text x="1364.12" y="427.56" text-anchor="middle" fill="#262626">0.07</text>
<text x="1432.88" y="427.56" text-anchor="middle" fill="#ffffff">0</text>
<text x="1501.62" y="427.56" text-anchor="middle" fill="#ffffff">0</text>
<text x="1020.38" y="467.67" text-anchor="middle" fill="#ffffff">0</text>
<text x="1089.12" y="467.67" text-anchor="middle" fill="#ffffff">0</text>
<text x="1157.88" y="467.67" text-anchor="middle" fill="#ffffff">0</text>
<text x="1226.62" y="467.67" text-anchor="middle" fill="#ffffff">0</text>
<text x="1295.38" y="467.67" text-anchor="middle" fill="#ffffff">0</text>
<text x="1364.12" y="467.67" text-anchor="middle" fill="#ffffff">0</text>
<text x="1432.88" y="467.67" text-anchor="middle" fill="#ffffff">0</text>
<text x="1501.62" y="467.67" text-anchor="middle" fill="#ffffff">0</text>
<text x="1020.38" y="507.78" text-anchor="middle" fill="#ffffff">0</text>
<text x="1089.12" y="507.78" text-anchor="middle" fill="#ffffff">0.02</text>
<text x="1157.88" y="507.78" text-anchor="middle" fill="#ffffff">0</text>
<text x="1226.62" y="507.78" text-anchor="middle" fill="#ffffff">0</text>
<text x="1295.38" y="507.78" text-anchor="middle" fill="#262626">0.09</text>
<text x="1364.12" y="507.78" text-anchor="middle" fill="#ffffff">0.01</text>
<text x="1432.88" y="507.78" text-anchor="middle" fill="#ffffff">0</text>
<text x="1501.62" y="507.78" text-anchor="middle" fill="#ffffff">0.03</text>
<text x="1020.38" y="547.89" text-anchor="middle" fill="#ffffff">0.01</text>
<text x="1089.12" y="547.89" text-anchor="middle" fill="#ffffff">0.01</text>
<text x="1157.88" y="547.89" text-anchor="middle" fill="#ffffff">0.01</text>
<text x="1226.62" y="547.89" text-anchor="middle" fill="#ffffff">0</text>
<text x="1295.38" y="547.89" text-anchor="middle" fill="#ffffff">0</text>
<text x="1364.12" y="547.89" text-anchor="middle" fill="#ffffff">0.03</text>
<text x="1432.88" y="547.89" text-anchor="middle" fill="#ffffff">0</text>
<text x="1501.62" y="547.89" text-anchor="middle" fill="#ffffff">0</text>
<text x="1020.38" y="587.99" text-anchor="middle" fill="#ffffff">0.01</text>
<text x="1089.12" y="587.99" text-anchor="middle" fill="#ffffff">0.04</text>
<text x="1157.88" y="587.99" text-anchor="middle" fill="#ffffff">0.01</text>
<text x="1226.62" y="587.99" text-anchor="middle" fill="#ffffff">0</text>
<text x="1295.38" y="587.99" text-anchor="middle" fill="#ffffff">0</text>
<text x="1364.12" y="587.99" text-anchor="middle" fill="#ffffff">0</text>
<text x="1432.88" y="587.99" text-anchor="middle" fill="#ffffff">0</text>
<text x="1501.62" y="587.99" text-anchor="middle" fill="#262626">0.06</text>
<text x="1020.38" y="628.10" text-anchor="middle" fill="#ffffff">0.02</text>
<text x="1089.12" y="628.10" text-anchor="middle" fill="#ffffff">0</text>
<text x="1157.88" y="628.10" text-anchor="middle" fill="#ffffff">0.01</text>
<text x="1226.62" y="628.10" text-anchor="middle" fill="#ffffff">0</text>
<text x="1295.38" y="628.10" text-anchor="middle" fill="#ffffff">0</text>
<text x="1364.12" y="628.10" text-anchor="middle" fill="#ffffff">0.02</text>
<text x="1432.88" y="628.10" text-anchor="middle" fill="#ffffff">0.02</text>
<text x="1501.62" y="628.10" text-anchor="middle" fill="#ffffff">0</text>
<text x="1020.38" y="668.21" text-anchor="middle" fill="#ffffff">0</text>
<text x="1089.12" y="668.21" text-anchor="middle" fill="#ffffff">0</text>
<text x="1157.88" y="668.21" text-anchor="middle" fill="#ffffff">0</text>
<text x="1226.62" y="668.21" text-anchor="middle" fill="#ffffff">0</text>
<text x="1295.38" y="668.21" text-anchor="middle" fill="#ffffff">0</text>
<text x="1364.12" y="668.21" text-anchor="middle" fill="#ffffff">0.04</text>
<text x="1432.88" y="668.21" text-anchor="middle" fill="#262626">0.05</text>
<text x="1501.62" y="668.21" text-anchor="middle" fill="#ffffff">0.03</text>
<text x="1020.38" y="708.32" text-anchor="middle" fill="#ffffff">0</text>
<text x="1089.12" y="708.32" text-anchor="middle" fill="#ffffff">0.01</text>
<text x="1157.88" y="708.32" text-anchor="middle" fill="#ffffff">0.01</text>
<text x="1226.62" y="708.32" text-anchor="middle" fill="#ffffff">0</text>
<text x="1295.38" y="708.32" text-anchor="middle" fill="#ffffff">0.02</text>
<text x="1364.12" y="708.32" text-anchor="middle" fill="#ffffff">0.01</text>
<text x="1432.88" y="708.32" text-anchor="middle" fill="#ffffff">0</text>
<text x="1501.62" y="708.32" text-anchor="middle" fill="#262626">0.09</text>
<text x="1020.38" y="748.43" text-anchor="middle" fill="#ffffff">0</text>
<text x="1089.12" y="748.43" text-anchor="middle" fill="#ffffff">0</text>
<text x="1157.88" y="748.43" text-anchor="middle" fill="#ffffff">0</text>
<text x="1226.62" y="748.43" text-anchor="middle" fill="#ffffff">0</text>
<text x="1295.38" y="748.43" text-anchor="middle" fill="#ffffff">0</text>
<text x="1364.12" y="748.43" text-anchor="middle" fill="#ffffff">0</text>
<text x="1432.88" y="748.43" text-anchor="middle" fill="#ffffff">0</text>
<text x="1501.62" y="748.43" text-anchor="middle" fill="#ffffff">0</text>
<text x="1020.38" y="788.53" text-anchor="middle" fill="#ffffff">0.04</text>
<text x="1089.12" y="788.53" text-anchor="middle" fill="#ffffff">0.02</text>
<text x="1157.88" y="788.53" text-anchor="middle" fill="#262626">0.05</text>
<text x="1226.62" y="788.53" text-anchor="middle" fill="#ffffff">0.04</text>
<text x="1295.38" y="788.53" text-anchor="middle" fill="#262626">0.06</text>
<text x="1364.12" y="788.53" text-anchor="middle" fill="#ffffff">0.02</text>
<text x="1432.88" y="788.53" text-anchor="middle" fill="#ffffff">0</text>
<text x="1501.62" y="788.53" text-anchor="middle" fill="#262626">0.09</text>
<text x="1020.38" y="828.64" text-anchor="middle" fill="#ffffff">0</text>
<text x="1089.12" y="828.64" text-anchor="middle" fill="#ffffff">0.02</text>
<text x="1157.88" y="828.64" text-anchor="middle" fill="#ffffff">0.01</text>
<text x="1226.62" y="828.64" text-anchor="middle" fill="#ffffff">0</text>
<text x="1295.38" y="828.64" text-anchor="middle" fill="#262626">0.06</text>
<text x="1364.12" y="828.64" text-anchor="middle" fill="#ffffff">0.01</text>
<text x="1432.88" y="828.64" text-anchor="middle" fill="#ffffff">0</text>
<text x="1501.62" y="828.64" text-anchor="middle" fill="#ffffff">0</text>
<line x1="976.50" y1="60.39" x2="986.00" y2="60.39" stroke="#000" stroke-width="2.2"/>
<text x="967.30" y="66.64" text-anchor="end" fill="#000">VPD</text>
<line x1="976.50" y1="100.47" x2="986.00" y2="100.47" stroke="#000" stroke-width="2.2"/>
<text x="967.30" y="106.72" text-anchor="end" fill="#000">TS</text>
<line x1="976.50" y1="140.55" x2="986.00" y2="140.55" stroke="#000" stroke-width="2.2"/>
<text x="967.30" y="146.80" text-anchor="end" fill="#000">LE</text>
<line x1="976.50" y1="180.63" x2="986.00" y2="180.63" stroke="#000" stroke-width="2.2"/>
<text x="967.30" y="186.88" text-anchor="end" fill="#000">DAY</text>
<line x1="976.50" y1="220.71" x2="986.00" y2="220.71" stroke="#000" stroke-width="2.2"/>
<text x="967.30" y="226.96" text-anchor="end" fill="#000">DOY</text>
<line x1="976.50" y1="260.79" x2="986.00" y2="260.79" stroke="#000" stroke-width="2.2"/>
<text x="967.30" y="267.04" text-anchor="end" fill="#000">RECO</text>
<line x1="976.50" y1="300.87" x2="986.00" y2="300.87" stroke="#000" stroke-width="2.2"/>
<text x="967.30" y="307.12" text-anchor="end" fill="#000">NEE</text>
<line x1="976.50" y1="340.95" x2="986.00" y2="340.95" stroke="#000" stroke-width="2.2"/>
<text x="967.30" y="347.20" text-anchor="end" fill="#000">GPP</text>
<line x1="976.50" y1="381.03" x2="986.00" y2="381.03" stroke="#000" stroke-width="2.2"/>
<text x="967.30" y="387.28" text-anchor="end" fill="#000">CO2</text>
<line x1="976.50" y1="421.11" x2="986.00" y2="421.11" stroke="#000" stroke-width="2.2"/>
<text x="967.30" y="427.36" text-anchor="end" fill="#000">SW_OUT</text>
<line x1="976.50" y1="461.19" x2="986.00" y2="461.19" stroke="#000" stroke-width="2.2"/>
<text x="967.30" y="467.44" text-anchor="end" fill="#000">SW_IN</text>
<line x1="976.50" y1="501.27" x2="986.00" y2="501.27" stroke="#000" stroke-width="2.2"/>
<text x="967.30" y="507.52" text-anchor="end" fill="#000">LW_OUT</text>
<line x1="976.50" y1="541.35" x2="986.00" y2="541.35" stroke="#000" stroke-width="2.2"/>
<text x="967.30" y="547.60" text-anchor="end" fill="#000">LW_IN</text>
<line x1="976.50" y1="581.43" x2="986.00" y2="581.43" stroke="#000" stroke-width="2.2"/>
<text x="967.30" y="587.68" text-anchor="end" fill="#000">NETRAD</text>
<line x1="976.50" y1="621.51" x2="986.00" y2="621.51" stroke="#000" stroke-width="2.2"/>
<text x="967.30" y="627.76" text-anchor="end" fill="#000">P</text>
<line x1="976.50" y1="661.59" x2="986.00" y2="661.59" stroke="#000" stroke-width="2.2"/>
<text x="967.30" y="667.84" text-anchor="end" fill="#000">TA</text>
<line x1="976.50" y1="701.67" x2="986.00" y2="701.67" stroke="#000" stroke-width="2.2"/>
<text x="967.30" y="707.92" text-anchor="end" fill="#000">PA</text>
<line x1="976.50" y1="741.75" x2="986.00" y2="741.75" stroke="#000" stroke-width="2.2"/>
<text x="967.30" y="748.00" text-anchor="end" fill="#000">WS</text>
<line x1="976.50" y1="781.83" x2="986.00" y2="781.83" stroke="#000" stroke-width="2.2"/>
<text x="967.30" y="788.08" text-anchor="end" fill="#000">H</text>
<line x1="976.50" y1="821.91" x2="986.00" y2="821.91" stroke="#000" stroke-width="2.2"/>
<text x="967.30" y="828.16" text-anchor="end" fill="#000">G</text>
<line x1="1020.38" y1="841.60" x2="1020.38" y2="851.10" stroke="#000" stroke-width="2.2"/>
<text x="1020.38" y="878.00" text-anchor="middle" fill="#000">OSH</text>
<line x1="1089.12" y1="841.60" x2="1089.12" y2="851.10" stroke="#000" stroke-width="2.2"/>
<text x="1089.12" y="878.00" text-anchor="middle" fill="#000">SAV</text>
<line x1="1157.88" y1="841.60" x2="1157.88" y2="851.10" stroke="#000" stroke-width="2.2"/>
<text x="1157.88" y="878.00" text-anchor="middle" fill="#000">GRA</text>
<line x1="1226.62" y1="841.60" x2="1226.62" y2="851.10" stroke="#000" stroke-width="2.2"/>
<text x="1226.62" y="878.00" text-anchor="middle" fill="#000">WSA</text>
<line x1="1295.38" y1="841.60" x2="1295.38" y2="851.10" stroke="#000" stroke-width="2.2"/>
<text x="1295.38" y="878.00" text-anchor="middle" fill="#000">EBF</text>
<line x1="1364.12" y1="841.60" x2="1364.12" y2="851.10" stroke="#000" stroke-width="2.2"/>
<text x="1364.12" y="878.00" text-anchor="middle" fill="#000">ENF</text>
<line x1="1432.88" y1="841.60" x2="1432.88" y2="851.10" stroke="#000" stroke-width="2.2"/>
<text x="1432.88" y="878.00" text-anchor="middle" fill="#000">DBF</text>
<line x1="1501.62" y1="841.60" x2="1501.62" y2="851.10" stroke="#000" stroke-width="2.2"/>
<text x="1501.62" y="878.00" text-anchor="middle" fill="#000">WET</text>
<rect x="1570.00" y="40.00" width="40.00" height="801.60" fill="url(#cw)"/>
<line x1="1610.00" y1="841.60" x2="1619.50" y2="841.60" stroke="#000" stroke-width="2.2"/>
<text x="1628.30" y="850.50" fill="#000">0.00</text>
<line x1="1610.00" y1="761.44" x2="1619.50" y2="761.44" stroke="#000" stroke-width="2.2"/>
<text x="1628.30" y="770.34" fill="#000">0.02</text>
<line x1="1610.00" y1="681.28" x2="1619.50" y2="681.28" stroke="#000" stroke-width="2.2"/>
<text x="1628.30" y="690.18" fill="#000">0.04</text>
<line x1="1610.00" y1="601.12" x2="1619.50" y2="601.12" stroke="#000" stroke-width="2.2"/>
<text x="1628.30" y="610.02" fill="#000">0.06</text>
<line x1="1610.00" y1="520.96" x2="1619.50" y2="520.96" stroke="#000" stroke-width="2.2"/>
<text x="1628.30" y="529.86" fill="#000">0.08</text>
<line x1="1610.00" y1="440.80" x2="1619.50" y2="440.80" stroke="#000" stroke-width="2.2"/>
<text x="1628.30" y="449.70" fill="#000">0.10</text>
<line x1="1610.00" y1="360.64" x2="1619.50" y2="360.64" stroke="#000" stroke-width="2.2"/>
<text x="1628.30" y="369.54" fill="#000">0.12</text>
<line x1="1610.00" y1="280.48" x2="1619.50" y2="280.48" stroke="#000" stroke-width="2.2"/>
<text x="1628.30" y="289.38" fill="#000">0.14</text>
<line x1="1610.00" y1="200.32" x2="1619.50" y2="200.32" stroke="#000" stroke-width="2.2"/>
<text x="1628.30" y="209.22" fill="#000">0.16</text>
<line x1="1610.00" y1="120.16" x2="1619.50" y2="120.16" stroke="#000" stroke-width="2.2"/>
<text x="1628.30" y="129.06" fill="#000">0.18</text>
<line x1="1610.00" y1="40.00" x2="1619.50" y2="40.00" stroke="#000" stroke-width="2.2"/>
<text x="1628.30" y="48.90" fill="#000">0.20</text>
<text x="1716.00" y="444.40" text-anchor="middle" fill="#000" font-size="25.2" transform="rotate(-90 1716.00 444.40)">Frequency</text>
<text x="1059.60" y="20.6" fill="#000" font-size="25.3">(b)SHAP</text>
</svg></body></html>
